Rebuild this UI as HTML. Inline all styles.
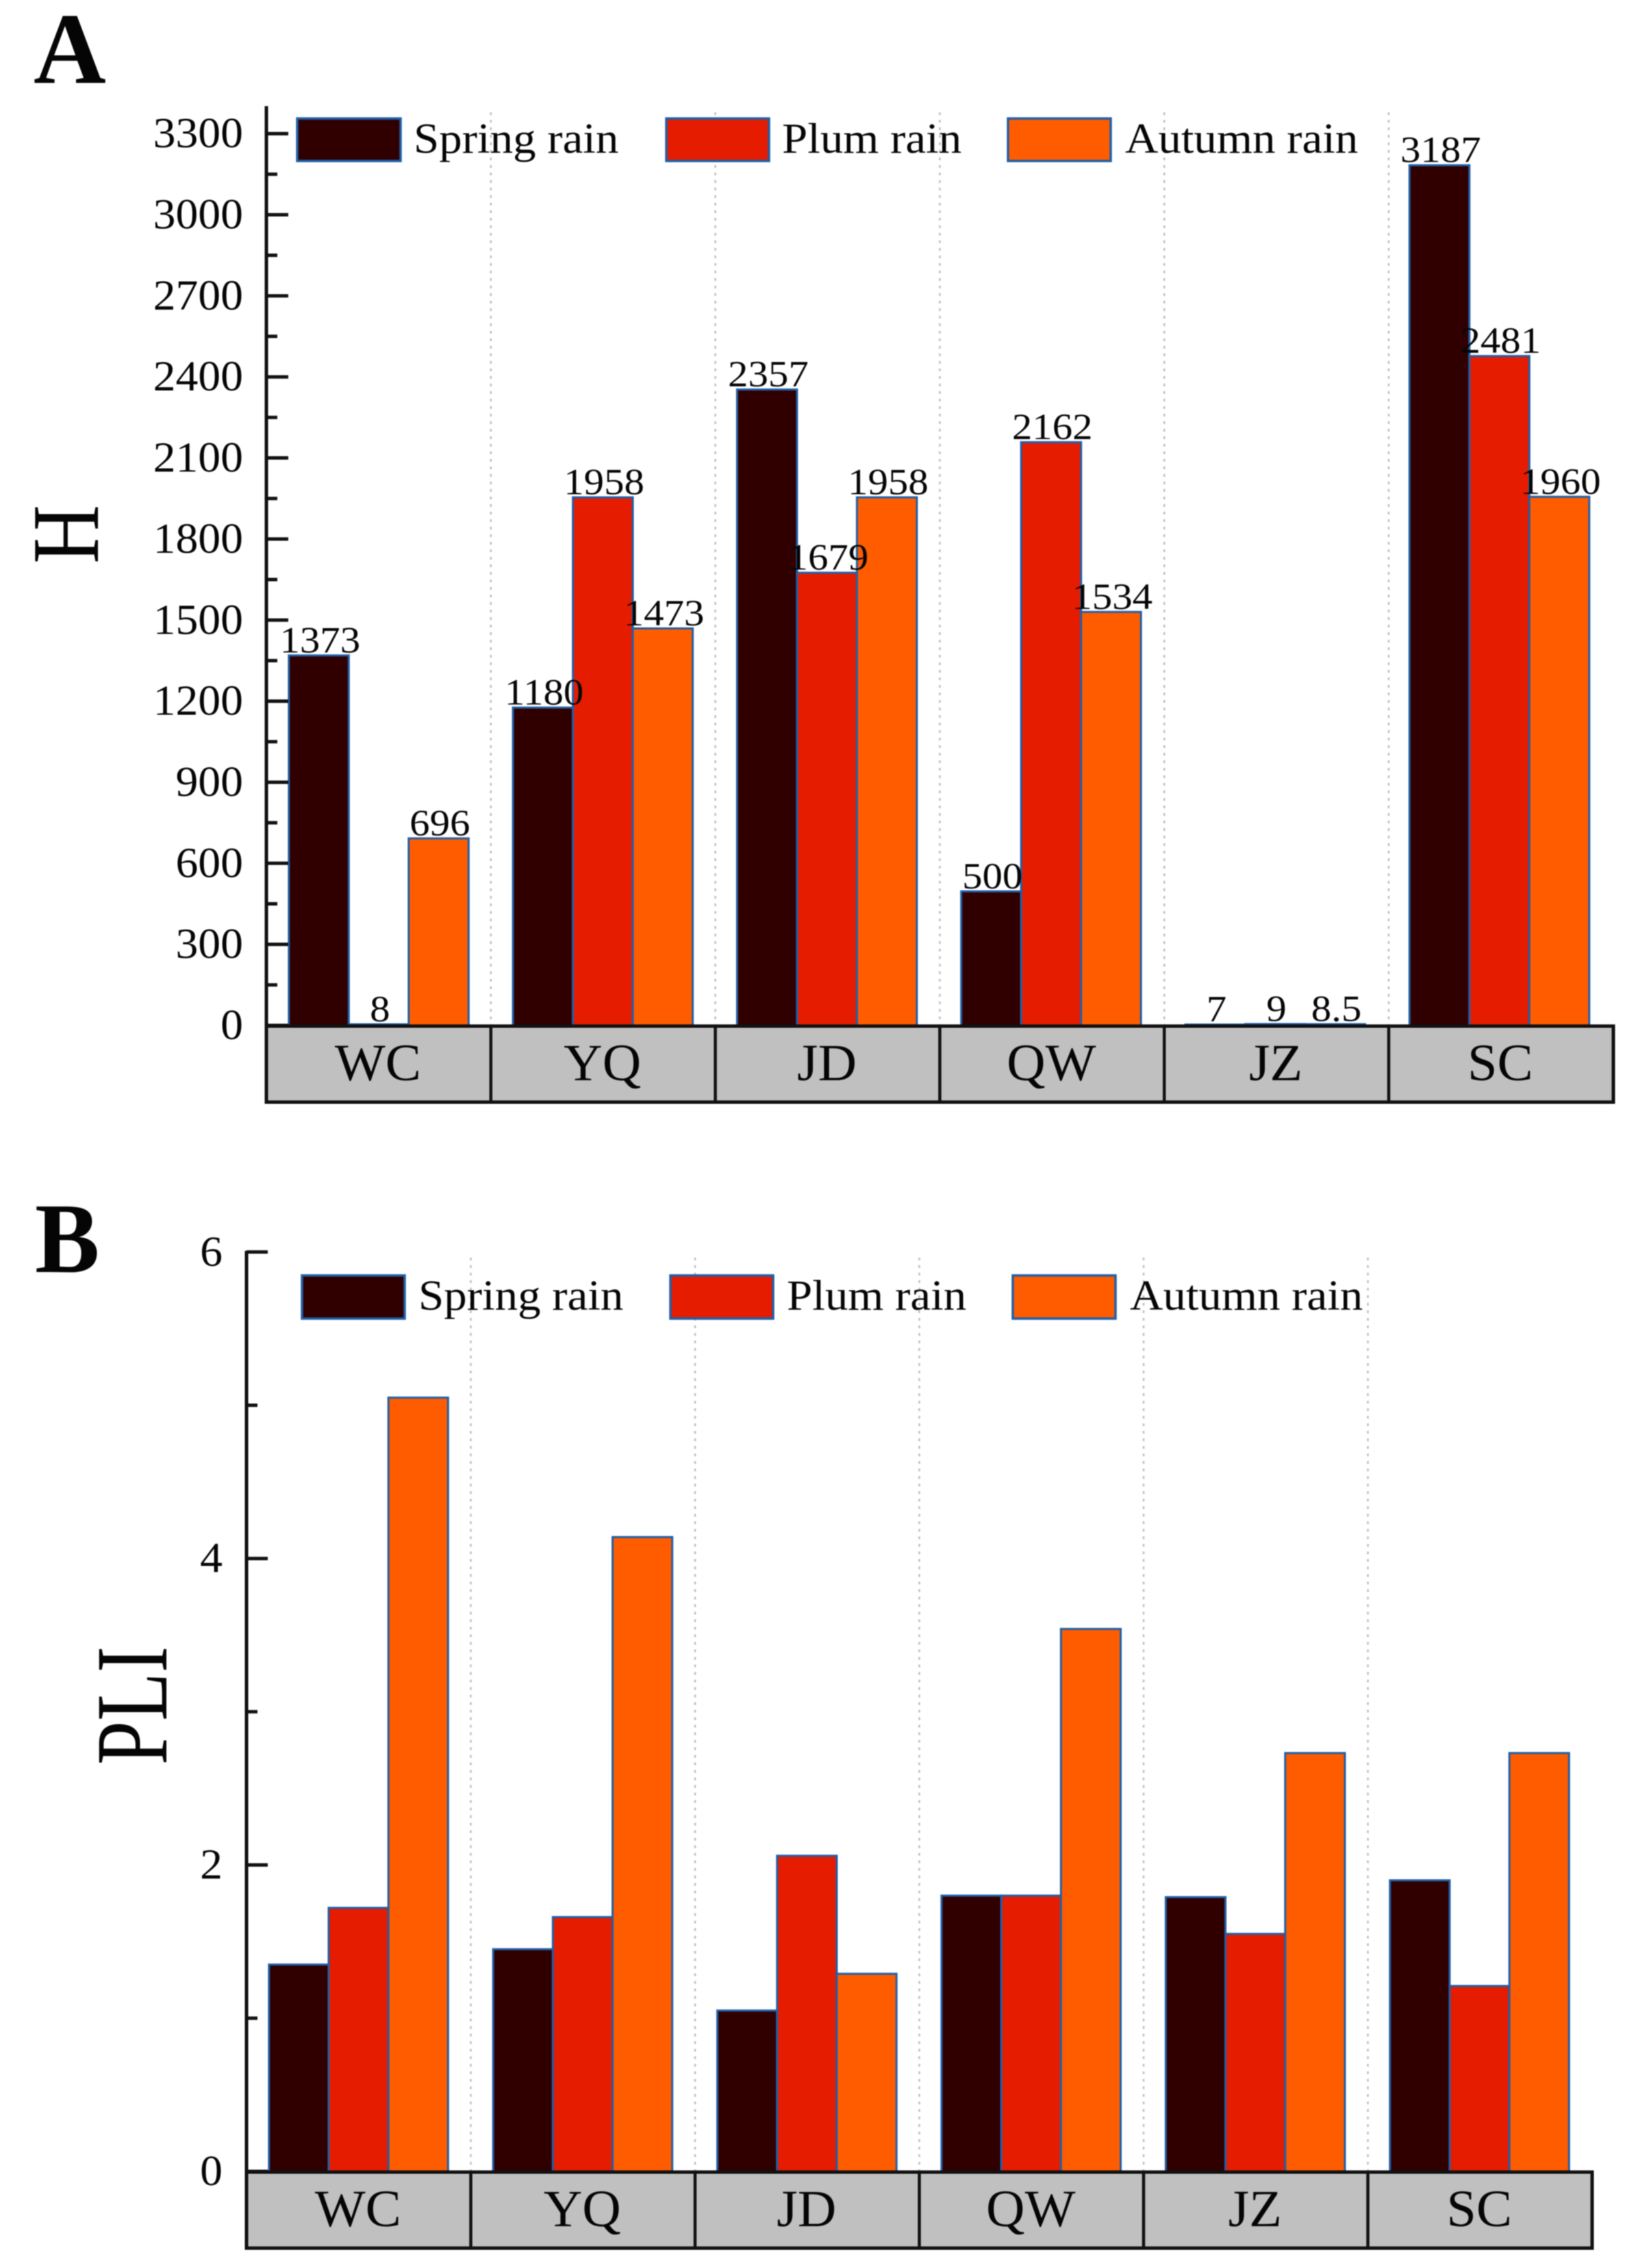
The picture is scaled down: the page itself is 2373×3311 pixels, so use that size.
<!DOCTYPE html>
<html lang="en">
<head>
<meta charset="utf-8">
<title>H and PLI by site and rain season</title>
<style>
  html, body { margin: 0; padding: 0; background: #fff; }
  svg { display: block; filter: blur(0.7px); }
  text { font-family: "Liberation Serif", "Times New Roman", serif; fill: #050505; }
</style>
</head>
<body>
<svg id="figure" xmlns="http://www.w3.org/2000/svg" width="2373" height="3311" viewBox="0 0 2373 3311">
  <rect x="0" y="0" width="2373" height="3311" fill="#ffffff"/>
  <g id="gridA"></g>
  <g id="gridB"></g>
  <g id="barsA"></g>
  <g id="barsB"></g>
  <g id="axisA"></g>
  <g id="axisB"></g>
  <g id="labelsA"></g>

  <text transform="translate(49,121) scale(0.99,1)" font-size="148" font-weight="bold">A</text>
  <text transform="translate(51,1857) scale(0.97,1)" font-size="146" font-weight="bold">B</text>
  <text transform="translate(143,780) rotate(-90) scale(0.85,1)" font-size="140" text-anchor="middle">H</text>
  <text transform="translate(243,2490) rotate(-90) scale(0.77,1)" font-size="150" text-anchor="middle">PLI</text>

  <g>
    <rect x="434" y="173" width="151" height="62" fill="#300000" stroke="#1f5fa8" stroke-width="3.5"/>
    <text transform="translate(604,223) scale(1.08,1)" font-size="62">Spring rain</text>
    <rect x="973" y="173" width="150" height="62" fill="#e61c00" stroke="#1f5fa8" stroke-width="3.5"/>
    <text transform="translate(1142,223) scale(1.08,1)" font-size="62">Plum rain</text>
    <rect x="1472" y="173" width="150" height="62" fill="#ff5c00" stroke="#1f5fa8" stroke-width="3.5"/>
    <text transform="translate(1643,223) scale(1.08,1)" font-size="62">Autumn rain</text>
  </g>
  <g>
    <rect x="441" y="1862" width="150" height="63" fill="#300000" stroke="#1f5fa8" stroke-width="3.5"/>
    <text transform="translate(611,1912) scale(1.08,1)" font-size="62">Spring rain</text>
    <rect x="979" y="1862" width="150" height="63" fill="#e61c00" stroke="#1f5fa8" stroke-width="3.5"/>
    <text transform="translate(1149,1912) scale(1.08,1)" font-size="62">Plum rain</text>
    <rect x="1479" y="1862" width="150" height="63" fill="#ff5c00" stroke="#1f5fa8" stroke-width="3.5"/>
    <text transform="translate(1650,1912) scale(1.08,1)" font-size="62">Autumn rain</text>
  </g>
</svg>
<script>
// ---- Data ----
const categories = ['WC', 'YQ', 'JD', 'QW', 'JZ', 'SC'];
const seriesNames = ['spring', 'plum', 'autumn'];

const hSpring = [1373, 1180, 2357, 500, 7, 3187];
const hPlum = [8, 1958, 1679, 2162, 9, 2481];
const hAutumn = [696, 1473, 1958, 1534, 8.5, 1960];

const pliSpring = [1.35, 1.45, 1.05, 1.80, 1.79, 1.90];
const pliPlum = [1.72, 1.66, 2.06, 1.80, 1.55, 1.21];
const pliAutumn = [5.05, 4.14, 1.29, 3.54, 2.73, 2.73];

const hTicks = [0, 300, 600, 900, 1200, 1500, 1800, 2100, 2400, 2700, 3000, 3300];
const pliTicks = [0, 2, 4, 6];

// ---- Drawing ----
const NS = 'http://www.w3.org/2000/svg';
const seriesFills = ['#300000', '#e61c00', '#ff5c00'];
const BAR_EDGE = '#1f5fa8';

function shape(tag, parent, attrs) {
  const el = document.createElementNS(NS, tag);
  for (const k in attrs) el.setAttribute(k, attrs[k]);
  parent.appendChild(el);
  return el;
}
function label(parent, str, x, y, size, sx, anchor) {
  const el = shape('text', parent, {
    transform: 'translate(' + x + ',' + y + ') scale(' + sx + ',1)',
    'font-size': size,
    'text-anchor': anchor
  });
  el.textContent = String(str);
  return el;
}

// Axis functions
const xA = (i, s) => 389 + 327.3 * i + 32.8 + 87.5 * s;
const yA = v => 1497 - v * 0.3945;
const xB = (i, s) => 360 + 327.4 * i + 32.75 + 87.2 * s;
const yB = v => 3170 - v * 223.7;

// Chart A bars and labels
const barsA = document.getElementById('barsA');
const labelsA = document.getElementById('labelsA');
[hSpring, hPlum, hAutumn].forEach(function (series, s) {
  series.forEach(function (v, i) {
    const bar = shape('rect', barsA, {
      x: xA(i, s), y: yA(v) + 1.5, width: 87.5, height: Math.max(0, yA(0) - yA(v) - 1.5),
      fill: seriesFills[s], stroke: BAR_EDGE, 'stroke-width': 3
    });
    
    
    const t = label(labelsA, v, xA(i, s) + 45.5, yA(v) - 3, 54, 1.09, 'middle');
    
    
  });
});

// Chart B bars
const barsB = document.getElementById('barsB');
[pliSpring, pliPlum, pliAutumn].forEach(function (series, s) {
  series.forEach(function (v, i) {
    const bar = shape('rect', barsB, {
      x: xB(i, s), y: yB(v), width: 87.2, height: yB(0) - yB(v),
      fill: seriesFills[s], stroke: BAR_EDGE, 'stroke-width': 3
    });
    
    
  });
});

// Gridlines (category dividers)
const gridA = document.getElementById('gridA');
const gridB = document.getElementById('gridB');
categories.slice(1).forEach(function (c, i) {
  const ga = shape('line', gridA, {
    x1: 389 + 327.8 * (i + 1), x2: 389 + 327.8 * (i + 1), y1: 164, y2: yA(0),
    stroke: '#bdbdbd', 'stroke-width': 2.5, 'stroke-dasharray': '4 7'
  });
  
  
  const gb = shape('line', gridB, {
    x1: 360 + 327.5 * (i + 1), x2: 360 + 327.5 * (i + 1), y1: 1836, y2: yB(0),
    stroke: '#bdbdbd', 'stroke-width': 2.5, 'stroke-dasharray': '4 7'
  });
  
  
});

// Chart A axis
const axisA = document.getElementById('axisA');
const spineA = shape('line', axisA, { x1: 389, x2: 389, y1: 155, y2: 1610, stroke: '#111', 'stroke-width': 5 });


hTicks.forEach(function (v, i) {
  const tick = shape('line', axisA, { x1: 389, x2: 421, y1: yA(v), y2: yA(v), stroke: '#111', 'stroke-width': 5 });
  
  
  const t = label(axisA, v, 355, yA(v) + 20, 62, 1.06, 'end');
  
  
  if (i < hTicks.length - 1) {
    const mid = (v + hTicks[i + 1]) / 2;
    const minor = shape('line', axisA, { x1: 389, x2: 405, y1: yA(mid), y2: yA(mid), stroke: '#111', 'stroke-width': 5 });
    
    
  }
});
const bandA = shape('rect', axisA, { x: 389, y: 1498, width: 1967, height: 111, fill: '#c0c0c0', stroke: '#111', 'stroke-width': 5 });


categories.forEach(function (c, i) {
  if (i > 0) {
    const sep = shape('line', axisA, { x1: 389 + 327.8 * i, x2: 389 + 327.8 * i, y1: 1498, y2: 1609, stroke: '#111', 'stroke-width': 4.5 });
    
    
  }
  const t = label(axisA, c, 388 + 327.8 * (i + 0.5), 1577, 76, 1.03, 'middle');
  
  
});

// Chart B axis
const axisB = document.getElementById('axisB');
const spineB = shape('line', axisB, { x1: 360, x2: 360, y1: 1826, y2: 3283, stroke: '#111', 'stroke-width': 5 });


pliTicks.forEach(function (v, i) {
  const tick = shape('line', axisB, { x1: 360, x2: 391, y1: yB(v), y2: yB(v), stroke: '#111', 'stroke-width': 5 });
  
  
  const t = label(axisB, v, 325, yB(v) + 20, 62, 1.06, 'end');
  
  
  if (i < pliTicks.length - 1) {
    const mid = (v + pliTicks[i + 1]) / 2;
    const minor = shape('line', axisB, { x1: 360, x2: 376, y1: yB(mid), y2: yB(mid), stroke: '#111', 'stroke-width': 5 });
    
    
  }
});
const bandB = shape('rect', axisB, { x: 360, y: 3171, width: 1965, height: 111, fill: '#c0c0c0', stroke: '#111', 'stroke-width': 5 });


categories.forEach(function (c, i) {
  if (i > 0) {
    const sep = shape('line', axisB, { x1: 360 + 327.5 * i, x2: 360 + 327.5 * i, y1: 3171, y2: 3282, stroke: '#111', 'stroke-width': 4.5 });
    
    
  }
  const t = label(axisB, c, 359 + 327.5 * (i + 0.5), 3250, 76, 1.03, 'middle');
  
  
});
</script>
</body>
</html>
